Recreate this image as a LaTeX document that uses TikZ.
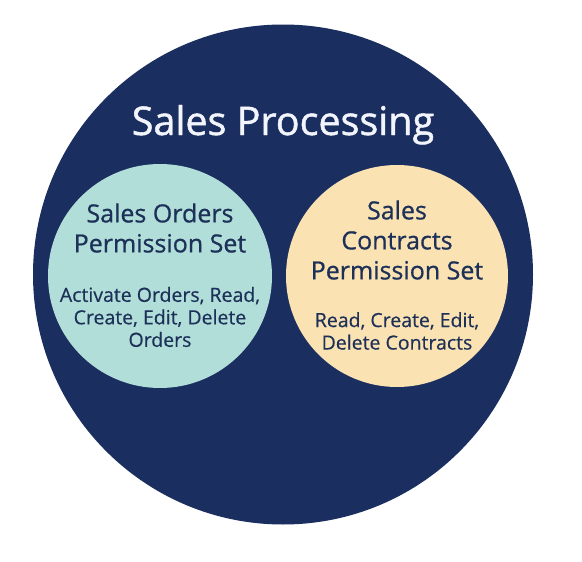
\documentclass[tikz,border=0pt]{standalone}
\usepackage{fontspec}
\setmainfont{Open Sans}
\newfontfamily\sftitlefont[FakeBold=1.2]{Open Sans}
\newfontfamily\sfheadfont[FakeBold=0.7]{Open Sans}
\newfontfamily\sfbodyfont[FakeBold=0.4]{Open Sans}
\definecolor{sfnavy}{HTML}{1A2E5F}
\definecolor{sfteal}{HTML}{B1DED9}
\definecolor{sfsand}{HTML}{FAE2B2}
\definecolor{sfink}{HTML}{1D3057}
\definecolor{sfwhite}{HTML}{F3F5FC}
\tikzset{
  bigtitle/.style={text=sfwhite, font=\sftitlefont\fontsize{39.5}{42}\selectfont},
  settitle/.style={text=sfink, align=center, font=\sfheadfont\fontsize{25}{30}\selectfont},
  setbody/.style={text=sfink, align=center, font=\sfbodyfont\fontsize{19.5}{22.5}\selectfont},
}
\begin{document}
\begin{tikzpicture}[x=1pt,y=-1pt]
\useasboundingbox (0,0) rectangle (582,562);
\node[circle, fill=sfnavy, minimum size=500pt, inner sep=0pt] (outer) at (283,274.5) {};
\node[circle, fill=sfteal, minimum size=224pt, inner sep=0pt] (orders) at (160,276) {};
\node[circle, fill=sfsand, minimum size=222pt, inner sep=0pt] (contracts) at (397,276) {};
\node[bigtitle, anchor=base] (title) at (283,135) {Sales Processing};
\node[settitle] (ordtitle) at (160,228) {Sales Orders\\Permission Set};
\node[setbody] (ordbody) at (160,317) {Activate Orders, Read,\\Create, Edit, Delete\\Orders};
\node[settitle] (contitle) at (397,240) {Sales\\Contracts\\Permission Set};
\node[setbody] (conbody) at (397,331) {Read, Create, Edit,\\Delete Contracts};
\end{tikzpicture}
\end{document}
